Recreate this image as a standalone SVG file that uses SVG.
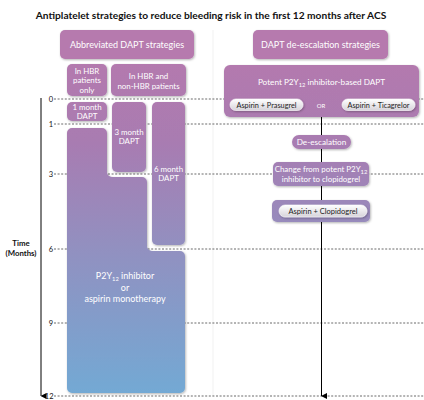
<svg xmlns="http://www.w3.org/2000/svg" width="424" height="400" viewBox="0 0 424 400">
<defs>
<linearGradient id="g" gradientUnits="userSpaceOnUse" x1="0" y1="30" x2="0" y2="393">
<stop offset="0" stop-color="#b879ad"/>
<stop offset="0.3" stop-color="#a97bb1"/>
<stop offset="0.6" stop-color="#9290c0"/>
<stop offset="1" stop-color="#73a9d4"/>
</linearGradient>
<linearGradient id="pill" x1="0" y1="0" x2="0" y2="1">
<stop offset="0" stop-color="#ffffff"/>
<stop offset="1" stop-color="#d6d3da"/>
</linearGradient>
<filter id="sh" x="-10%" y="-10%" width="130%" height="140%">
<feDropShadow dx="0.8" dy="1" stdDeviation="0.9" flood-color="#000" flood-opacity="0.3"/>
</filter>
<marker id="ah" viewBox="0 0 6 6" refX="3" refY="5.5" markerWidth="6" markerHeight="6" markerUnits="userSpaceOnUse" orient="auto-start-reverse">
<path d="M0,0 L6,0 L3,6 Z" fill="#000"/>
</marker>
</defs>
<style>
text{font-family:Lato,"Open Sans","Liberation Sans",sans-serif}
.box{fill:url(#g);filter:url(#sh)}
.hdr{fill:#b67aae;filter:url(#sh)}
.w{fill:#fff;text-anchor:middle;font-size:7.9px}
.wh{fill:#fff;text-anchor:middle;font-size:9px}
.big{font-size:9px}
.p{fill:url(#pill);stroke:#fff;stroke-width:0.6;filter:url(#sh)}
.pt{fill:#222;text-anchor:middle;font-size:7.3px}
.grid{stroke:#444;stroke-width:0.8;stroke-dasharray:2 1.6;fill:none}
.tick{font-size:7.5px;fill:#111;text-anchor:end}
.sub{font-size:5.8px}
</style>
<rect width="424" height="400" fill="#fff"/>
<text x="211" y="19" text-anchor="middle" font-size="10.2" font-weight="bold" fill="#111">Antiplatelet strategies to reduce bleeding risk in the first 12 months after ACS</text>
<line x1="213" y1="30" x2="213" y2="396" stroke="#eeeeee" stroke-width="0.8"/>

<g id="gridlines">
<line class="grid" x1="54" y1="99" x2="424" y2="99"/>
<line class="grid" x1="54" y1="124" x2="424" y2="124"/>
<line class="grid" x1="54" y1="174" x2="424" y2="174"/>
<line class="grid" x1="54" y1="249" x2="424" y2="249"/>
<line class="grid" x1="54" y1="323" x2="424" y2="323"/>
<line class="grid" x1="54" y1="396" x2="424" y2="396"/>
</g>

<g id="axis">
<line x1="41" y1="98" x2="41" y2="396" stroke="#000" stroke-width="1" marker-end="url(#ah)"/>
<text class="tick" x="53" y="101.5">0</text>
<text class="tick" x="53" y="126.5">1</text>
<text class="tick" x="53" y="176.5">3</text>
<text class="tick" x="53" y="251.5">6</text>
<text class="tick" x="53" y="325.5">9</text>
<text class="tick" x="53.5" y="398.5">12</text>
<text x="21" y="246" text-anchor="middle" font-size="7.8" font-weight="bold" fill="#111">Time</text>
<text x="21" y="256" text-anchor="middle" font-size="7.8" font-weight="bold" fill="#111">(Months)</text>
</g>

<g id="connectors">
<line x1="321.5" y1="117" x2="321.5" y2="396" stroke="#000" stroke-width="1" marker-end="url(#ah)"/>
</g>

<g id="hdr-abbrev">
<rect class="hdr" x="60" y="30" width="134" height="29" rx="5"/>
<text class="wh" x="127" y="48">Abbreviated DAPT strategies</text>
</g>
<g id="hdr-deesc">
<rect class="hdr" x="253" y="30" width="135" height="29" rx="5"/>
<text class="wh" x="320.5" y="48">DAPT de-escalation strategies</text>
</g>

<g id="hbr-only">
<rect class="box" x="67" y="64" width="40" height="32" rx="5"/>
<text class="w" x="87" y="73.5">In HBR</text>
<text class="w" x="87" y="83">patients</text>
<text class="w" x="87" y="92.5">only</text>
</g>
<g id="hbr-all">
<rect class="box" x="111" y="64" width="75" height="32" rx="5"/>
<text class="w" x="148.5" y="78.5">In HBR and</text>
<text class="w" x="148.5" y="88.5">non-HBR patients</text>
</g>

<g id="m1">
<rect class="box" x="67" y="102" width="40" height="19" rx="5"/>
<text class="w" x="87" y="110">1 month</text>
<text class="w" x="87" y="118.5">DAPT</text>
</g>
<g id="m3">
<rect class="box" x="112" y="102" width="34" height="70" rx="5"/>
<text class="w" x="129" y="134.5">3 month</text>
<text class="w" x="129" y="143.5">DAPT</text>
</g>
<g id="m6">
<rect class="box" x="152" y="102" width="33" height="143" rx="5"/>
<text class="w" x="168.5" y="171.5">6 month</text>
<text class="w" x="168.5" y="180.5">DAPT</text>
</g>
<g id="mono">
<path class="box" d="M72,128 H102 A5,5 0 0 1 107,133 V172 A5,5 0 0 0 112,177 H142 A5,5 0 0 1 147,182 V246 A5,5 0 0 0 152,251 H180 A5,5 0 0 1 185,256 V388 A5,5 0 0 1 180,393 H72 A5,5 0 0 1 67,388 V133 A5,5 0 0 1 72,128 Z"/>
<text class="w big" x="125" y="279">P2Y<tspan class="sub" dy="2">12</tspan><tspan dy="-2"> inhibitor</tspan></text>
<text class="w big" x="125" y="290.5">or</text>
<text class="w big" x="125" y="302">aspirin monotherapy</text>
</g>

<g id="potent">
<rect class="box" x="224" y="65" width="195" height="52" rx="6"/>
<text class="w" x="321.5" y="85" style="font-size:8.2px">Potent P2Y<tspan class="sub" dy="2">12</tspan><tspan dy="-2"> inhibitor-based DAPT</tspan></text>
<rect class="p" x="230" y="99" width="73" height="11.5" rx="5.75"/>
<text class="pt" x="266.5" y="107.5">Aspirin  + Prasugrel</text>
<text x="321" y="107.5" text-anchor="middle" font-size="6" fill="#fff">OR</text>
<rect class="p" x="342" y="99" width="73" height="11.5" rx="5.75"/>
<text class="pt" x="378.5" y="107.5">Aspirin + Ticagrelor</text>
</g>
<g id="deesc">
<rect class="box" x="292" y="135" width="59" height="14" rx="7"/>
<text class="w" x="321.5" y="145" style="font-size:8.2px">De-escalation</text>
</g>
<g id="change">
<rect class="box" x="273" y="162" width="96" height="24" rx="5"/>
<text class="w" x="321" y="172">Change from potent P2Y<tspan class="sub" dy="2">12</tspan></text>
<text class="w" x="321" y="182">inhibitor to clopidogrel</text>
</g>
<g id="clopi">
<rect class="box" x="272" y="200" width="98" height="22" rx="5"/>
<rect class="p" x="279" y="205" width="88" height="12" rx="6"/>
<text class="pt" x="323" y="213.5" style="font-size:7.5px">Aspirin + Clopidogrel</text>
</g>
</svg>
